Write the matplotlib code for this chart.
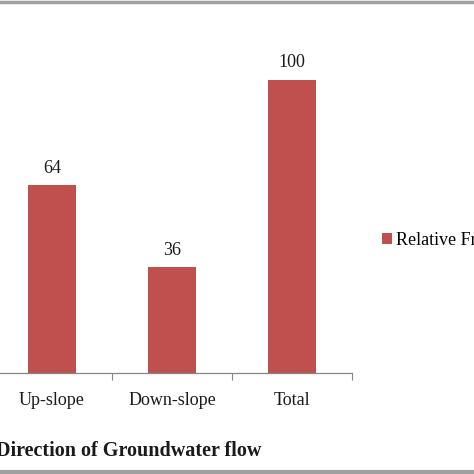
import matplotlib.pyplot as plt
from matplotlib.lines import Line2D

categories = ["Up-slope", "Down-slope", "Total"]
values = [64, 36, 100]
series_name = "Relative Frequency"

plt.rcParams["font.family"] = ["Liberation Serif", "DejaVu Serif"]

W = 474
fig = plt.figure(figsize=(4.74, 4.74), dpi=100)
# axes runs slightly off the left edge, like the cropped original
ax = fig.add_axes([-8 / W, 101 / W, 360 / W, 352 / W])

bars = ax.bar(range(len(categories)), values, width=0.4, color="#C0504D",
              label=series_name)
ax.bar_label(bars, padding=6, fontsize=13, color="#1a1a1a")

ax.set_xlim(-0.5, len(categories) - 0.5)
ax.set_ylim(0, 120)
ax.set_xticks(range(len(categories)))
ax.set_xticklabels(categories, fontsize=13, color="#1a1a1a")
ax.tick_params(axis="x", which="major", length=0, pad=14)
ax.set_xticks([i + 0.5 for i in range(len(categories))], minor=True)
ax.tick_params(axis="x", which="minor", length=5, color="#868686", width=0.8)
ax.set_yticks([])
for s in ["top", "right", "left"]:
    ax.spines[s].set_visible(False)
ax.spines["bottom"].set_color("#868686")
ax.spines["bottom"].set_linewidth(0.9)

fig.text(-4 / W, 1 - 451 / W, "Direction of Groundwater flow", fontsize=14.5,
         fontweight="bold", color="#1a1a1a", va="center", ha="left")

fig.legend(handles=[bars], labels=[series_name], loc="center left",
           bbox_to_anchor=(366 / W, 1 - 240 / W), frameon=False, fontsize=13,
           handlelength=0.55, handleheight=0.55, handletextpad=0.2)

# grey frame lines of the original screenshot
fig.add_artist(Line2D([0, 1], [1 - 1.5 / W, 1 - 1.5 / W], color="#a0a0a0", lw=2.5))
fig.add_artist(Line2D([0, 1], [2 / W, 2 / W], color="#a0a0a0", lw=3))

fig.savefig("out.png", dpi=100)
